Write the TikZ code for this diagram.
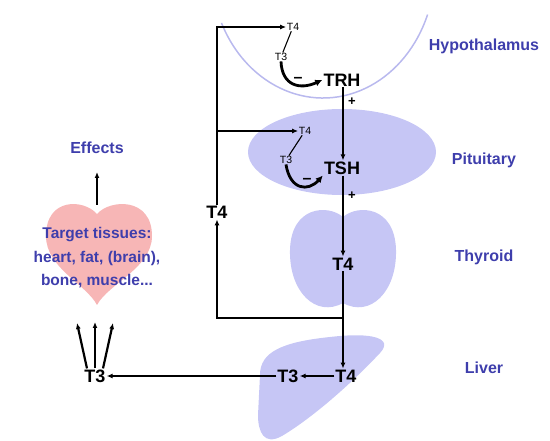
\documentclass[tikz,border=0pt]{standalone}
\usepackage{fontspec}
\setmainfont{Liberation Sans}
\usetikzlibrary{arrows.meta}
\definecolor{organ}{RGB}{198,198,245}
\definecolor{organline}{RGB}{185,185,238}
\definecolor{heartpink}{RGB}{247,182,182}
\definecolor{labelblue}{RGB}{62,62,172}
\tikzset{
  hormone/.style  = {font=\fontsize{18}{20}\selectfont\bfseries, inner sep=1pt},
  smallh/.style   = {font=\fontsize{10.5}{12}\selectfont, inner sep=0.5pt},
  organlabel/.style = {font=\fontsize{16}{18}\selectfont\bfseries, text=labelblue},
  sign/.style     = {font=\fontsize{13}{14}\selectfont\bfseries, inner sep=0pt},
  arr/.style      = {-{Latex[length=6pt,width=5pt]}, line width=2.2pt},
  curvearr/.style = {-{Latex[length=7pt,width=7pt]}, line width=2.8pt},
  organfill/.style = {fill=organ, draw=none}
}
\begin{document}
\begin{tikzpicture}[x=1pt, y=-1pt]
 \useasboundingbox (0,0) rectangle (550,441);

 % organs
 \coordinate (hypoc) at (323,-32);
 \draw[organline, line width=1.5pt] (hypoc) ++(155:112 and 130)
   arc [start angle=155, end angle=21, x radius=112, y radius=130];
 \fill[organfill] (342,152) ellipse (94 and 43);
 \fill[organfill] (343,217) .. controls (328,204) and (291,206) .. (290,250)
   .. controls (289,292) and (316,318) .. (343,303)
   .. controls (370,318) and (397,292) .. (396,250)
   .. controls (395,206) and (358,204) .. (343,217) -- cycle;
 \fill[organfill] (260,375) .. controls (260,352) and (282,342) .. (330,337)
   .. controls (372,332) and (394,338) .. (380,353)
   .. controls (350,385) and (312,418) .. (282,436)
   .. controls (264,446) and (258,432) .. (258,415) -- cycle;
 \fill[heartpink] (97,214) .. controls (84,199) and (46,197) .. (46,236)
   .. controls (46,268) and (86,284) .. (97,305)
   .. controls (108,284) and (152,268) .. (152,236)
   .. controls (152,197) and (110,199) .. (97,214) -- cycle;

 % labels on the right
 \node[organlabel] (hypo) at (484,46) {Hypothalamus};
 \node[organlabel] (pit)  at (484,160) {Pituitary};
 \node[organlabel] (thy)  at (484,257) {Thyroid};
 \node[organlabel] (liv)  at (484,368) {Liver};

 % hormones
 \node[smallh]  (hT4) at (293,27) {T4};
 \node[smallh]  (hT3) at (281,57) {T3};
 \node[hormone] (TRH) at (342,80) {TRH};
 \node[smallh]  (pT4) at (305,131) {T4};
 \node[smallh]  (pT3) at (286,160) {T3};
 \node[hormone] (TSH) at (342,168) {TSH};
 \node[hormone] (tT4) at (343,264) {T4};
 \node[hormone] (lT4) at (346,376) {T4};
 \node[hormone] (lT3) at (288,376) {T3};
 \node[hormone] (fT4) at (217,212) {T4};
 \node[hormone] (bT3) at (95,376) {T3};

 % target tissues
 \node[organlabel] (eff) at (97,148) {Effects};
 \node[organlabel, font=\fontsize{15.5}{23.5}\selectfont\bfseries, align=center]
   (tis) at (97,258) {Target tissues:\\heart, fat, (brain),\\bone, muscle...};

 % connectors
 \draw[line width=1.1pt] (hT4) -- (hT3);
 \draw[line width=1.1pt] (pT4) -- (pT3);
 \draw[curvearr] (hT3.south) .. controls (282,86) and (300,90) .. (TRH.west);
 \draw[curvearr] (pT3.south) .. controls (290,190) and (308,192) .. (TSH.south west);
 \node[sign, font=\fontsize{16}{16}\selectfont\bfseries] (m1) at (298,80) {--};
 \node[sign, font=\fontsize{16}{16}\selectfont\bfseries] (m2) at (307,181) {--};

 \coordinate (split) at (343,318);
 \draw[arr] (TRH.south -| split) -- node[sign, right=4pt, pos=0.2] (p1) {+} (TSH.north -| split);
 \draw[arr] (TSH.south -| split) -- node[sign, right=4pt, pos=0.25] (p2) {+} (tT4);
 \draw[arr] (tT4) -- (split) -- (split |- lT4.north);
 \draw[arr] (split) -| (fT4);
 \draw[arr] (fT4) |- (hT4);
 \draw[arr] (fT4 |- pT4) -- (pT4);
 \draw[arr] (lT4) -- (lT3);
 \draw[arr] (lT3) -- (bT3);

 \coordinate (tipL) at (77,323);
 \coordinate (tipM) at (95,322);
 \coordinate (tipR) at (113,323);
 \draw[arr] ([xshift=-8pt]bT3.north) -- (tipL);
 \draw[arr] (bT3.north) -- (tipM);
 \draw[arr] ([xshift=8pt]bT3.north) -- (tipR);
 \coordinate (htop) at (97,205);
 \coordinate (efftip) at (97,172);
 \draw[arr] (htop) -- (efftip);
\end{tikzpicture}
\end{document}
